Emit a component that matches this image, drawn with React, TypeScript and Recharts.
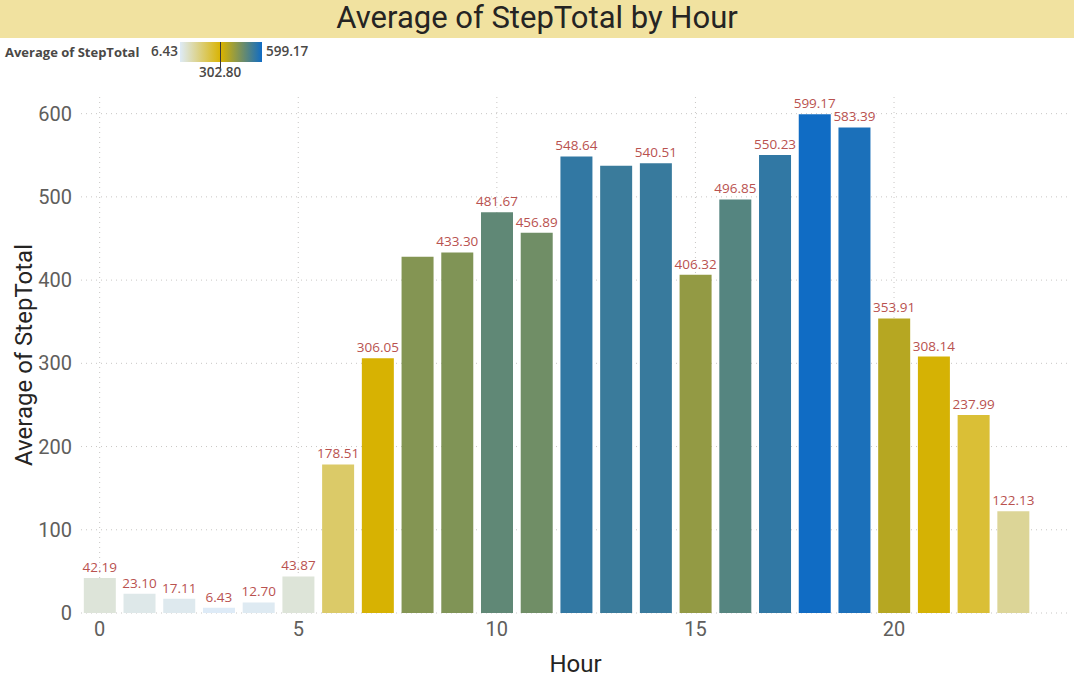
import { Bar, BarChart, CartesianGrid, Cell, LabelList, XAxis, YAxis } from 'recharts';

const hours = [0, 1, 2, 3, 4, 5, 6, 7, 8, 9, 10, 11, 12, 13, 14, 15, 16, 17, 18, 19, 20, 21, 22, 23];
const avgSteps = [
  42.19, 23.1, 17.11, 6.43, 12.7, 43.87, 178.51, 306.05, 428.0, 433.3, 481.67, 456.89,
  548.64, 537.5, 540.51, 406.32, 496.85, 550.23, 599.17, 583.39, 353.91, 308.14, 237.99, 122.13,
];
// Power BI dropped these labels to avoid overlap
const hiddenLabels = [8, 13];
const xTicks = [0, 5, 10, 15, 20];
const yTicks = [0, 100, 200, 300, 400, 500, 600];
const legendMin = 6.43;
const legendMid = 302.8;
const legendMax = 599.17;

const data = hours.map((h, i) => ({ hour: h, steps: avgSteps[i] }));

const LOW = [222, 235, 247];
const MID = [217, 179, 0];
const HIGH = [16, 108, 196];

function mix(a: number[], b: number[], t: number) {
  const c = a.map((v, i) => Math.round(v + (b[i] - v) * t));
  return `rgb(${c[0]},${c[1]},${c[2]})`;
}

function colorFor(v: number) {
  if (v <= legendMid) return mix(LOW, MID, (v - legendMin) / (legendMid - legendMin));
  return mix(MID, HIGH, (v - legendMid) / (legendMax - legendMid));
}

const DIN = 'Roboto, "DejaVu Sans", sans-serif';
const SEGOE = '"Open Sans", "Noto Sans", sans-serif';

function ValueLabel(props: any) {
  const { x, y, width, value, index } = props;
  if (hiddenLabels.includes(hours[index])) return null;
  return (
    <text x={x + width / 2} y={y - 6} textAnchor="middle" fill="#B9524F" fontSize={13.5} fontFamily={SEGOE}>
      {Number(value).toFixed(2)}
    </text>
  );
}

function YTitle(props: any) {
  const { viewBox } = props;
  const cy = viewBox ? viewBox.y + viewBox.height / 2 : 355;
  return (
    <text
      x={24}
      y={cy}
      transform={`rotate(-90 24 ${cy})`}
      textAnchor="middle"
      dominantBaseline="central"
      fill="#252423"
      fontSize={24}
      fontFamily={DIN}
    >
      Average of StepTotal
    </text>
  );
}

function Legend() {
  return (
    <div style={{ position: 'absolute', left: 0, top: 38, width: 400, height: 50, fontFamily: SEGOE, color: '#4a4846' }}>
      <span style={{ position: 'absolute', left: 5, top: 5, fontSize: 13, fontWeight: 700 }}>Average of StepTotal</span>
      <span style={{ position: 'absolute', left: 151, top: 4, fontSize: 13.5, fontWeight: 600 }}>{legendMin.toFixed(2)}</span>
      <div
        style={{
          position: 'absolute', left: 180, top: 4, width: 82, height: 20,
          background: `linear-gradient(to right, rgb(${LOW.join(',')}), rgb(${MID.join(',')}) 50%, rgb(${HIGH.join(',')}))`,
        }}
      />
      <div style={{ position: 'absolute', left: 220, top: 4, width: 1, height: 26, background: '#3b3a39' }} />
      <span style={{ position: 'absolute', left: 266, top: 4, fontSize: 13.5, fontWeight: 600 }}>{legendMax.toFixed(2)}</span>
      <span style={{ position: 'absolute', left: 199, top: 25, fontSize: 13.5, fontWeight: 600 }}>{legendMid.toFixed(2)}</span>
    </div>
  );
}

export default function App() {
  return (
    <div style={{ position: 'absolute', left: 0, top: 0, width: 1074, height: 692, background: '#fff', overflow: 'hidden' }}>
      <div
        style={{
          position: 'absolute', left: 0, top: 0, width: 1074, height: 38, background: '#F1E2A0',
          textAlign: 'center', fontFamily: DIN, fontSize: 31, lineHeight: '36px', color: '#252423',
        }}
      >
        Average of StepTotal by Hour
      </div>
      <Legend />
      <div style={{ position: 'absolute', left: 0, top: 0 }}>
        <BarChart width={1074} height={692} data={data} margin={{ top: 97, right: 4, bottom: 0, left: 0 }}>
          <CartesianGrid stroke="#C8C6C4" strokeDasharray="1 4" syncWithTicks />
          <XAxis
            dataKey="hour"
            type="number"
            domain={[-0.47, 24.43]}
            ticks={xTicks}
            allowDataOverflow
            height={79}
            axisLine={false}
            tickLine={false}
            tickSize={0}
            tickMargin={9}
            tick={{ fill: '#605E5C', fontSize: 20, fontFamily: DIN }}
            label={{ value: 'Hour', position: 'insideBottom', offset: 20, fill: '#252423', fontSize: 24, fontFamily: DIN }}
          />
          <YAxis
            domain={[0, 620]}
            ticks={yTicks}
            allowDataOverflow
            width={81}
            axisLine={false}
            tickLine={false}
            tickSize={0}
            tickMargin={9}
            tick={{ fill: '#605E5C', fontSize: 20, fontFamily: DIN }}
            label={<YTitle />}
          />
          <Bar dataKey="steps" barSize={32} isAnimationActive={false}>
            {data.map((d) => (
              <Cell key={d.hour} fill={colorFor(d.steps)} />
            ))}
            <LabelList dataKey="steps" content={<ValueLabel />} />
          </Bar>
        </BarChart>
      </div>
    </div>
  );
}
